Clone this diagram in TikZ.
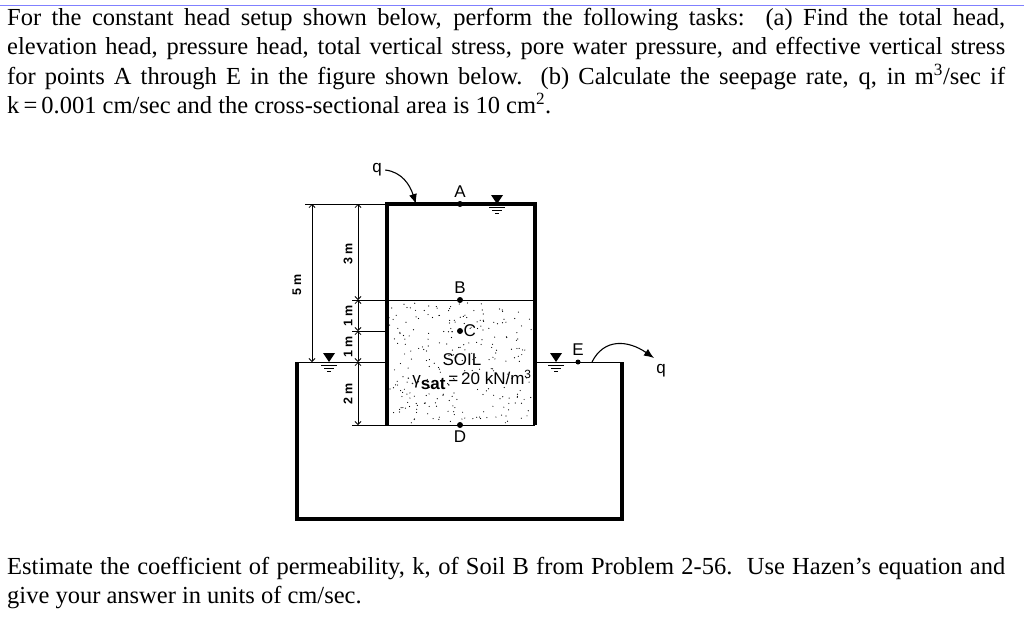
\documentclass[tikz,border=0pt]{standalone}
\usepackage{fontspec}
\setmainfont{Liberation Serif}
\newfontfamily\lsans{Liberation Sans}
\usetikzlibrary{arrows.meta}
\begin{document}
\begin{tikzpicture}[x=1pt,y=-1pt,
  wall/.style={line width=3.4pt},
  thin/.style={line width=0.9pt},
  dim/.style={line width=0.8pt,{Straight Barb[length=3pt]}-{Straight Barb[length=3pt]}},
  lab/.style={font=\lsans\fontsize{17}{17}\selectfont},
  dimlab/.style={font=\lsans\bfseries\fontsize{12.5}{12.5}\selectfont,rotate=90,fill=white,inner sep=1pt},
  pt/.style={circle,fill,inner sep=0pt,minimum size=6pt}]
\useasboundingbox (0,0) rectangle (1024,624);
\draw[line width=0.8pt,blue!50] (0,5) -- (1024,5);
\node[anchor=north west,inner sep=0pt,text width=998pt,align=justify,font=\fontsize{24.5}{29.5}\selectfont] (top) at (7,8)
{For the constant head setup shown below, perform the following tasks:\ \ (a) Find the total head,\linebreak elevation head, pressure head, total vertical stress, pore water pressure, and effective vertical stress\linebreak for points A through E in the figure shown below.\ \ (b) Calculate the seepage rate, q, in m\textsuperscript{3}/sec if\linebreak k\,=\,0.001 cm/sec and the cross-sectional area is 10 cm\textsuperscript{2}.};
\node[anchor=north west,inner sep=0pt,text width=998pt,align=justify,font=\fontsize{24.5}{29.5}\selectfont] (bot) at (7,557)
{Estimate the coefficient of permeability, k, of Soil B from Problem 2-56.\ \ Use Hazen's equation and\linebreak give your answer in units of cm/sec.};
% soil dots
\pgfmathsetseed{7}
\foreach \i in {1,...,260}{
  \pgfmathsetmacro\px{389+144*rnd}\pgfmathsetmacro\py{302+121*rnd}
  \fill (\px,\py) circle (0.6pt);}
% walls
\draw[wall] (387,425) -- (387,204) -- (535,204) -- (535,425);
\draw[thin] (387,300) -- (535,300);
\draw[thin] (387,425) -- (535,425);
\draw[wall] (297,362) -- (297,519) -- (622,519) -- (622,362);
\draw[thin] (297,362) -- (387,362);
\draw[thin] (535,362) -- (622,362);
% extension lines
\draw[thin] (305,204) -- (387,204);
\draw[thin] (352,300) -- (387,300);
\draw[thin] (352,331) -- (387,331);
\draw[thin] (352,425) -- (387,425);
% dimension lines
\coordinate (d5a) at (312,204); \coordinate (d5b) at (312,362);
\draw[dim] (d5a) -- (d5b);
\node[dimlab] (l5) at (297,285) {5 m};
\coordinate (h0) at (358,204); \coordinate (h1) at (358,300);
\coordinate (h2) at (358,331); \coordinate (h3) at (358,362); \coordinate (h4) at (358,425);
\draw[dim] (h0) -- (h1); \draw[dim] (h1) -- (h2); \draw[dim] (h2) -- (h3); \draw[dim] (h3) -- (h4);
\node[dimlab] (l3) at (348,254) {3 m};
\node[dimlab] (l1a) at (348,316) {1 m};
\node[dimlab] (l1b) at (348,347) {1 m};
\node[dimlab] (l2) at (348,394) {2 m};
% water table symbols
\foreach \x/\y in {497/204,329/362,556/362}{
  \fill (\x-6,\y-9) -- (\x+6,\y-9) -- (\x,\y) -- cycle;
  \draw[line width=0.9pt] (\x-8,\y+3) -- (\x+8,\y+3) (\x-5,\y+6) -- (\x+5,\y+6) (\x-2,\y+9) -- (\x+2,\y+9);}
% points
\node[pt] (A) at (460,204) {}; \node[lab,above=3pt] at (A) {A};
\node[pt] (B) at (460,300) {}; \node[lab,above=3pt] at (B) {B};
\node[pt] (C) at (460,331) {}; \node[lab,right=0pt] at (C) {C};
\node[pt] (D) at (460,425) {}; \node[lab,below=2pt] at (D) {D};
\node[pt,minimum size=5pt] (E) at (578,362) {}; \node[lab,above=3pt] at (E) {E};
\node[lab] (soil) at (462,360) {SOIL};
\node[lab] (gam) at (472,380) {γ\raisebox{-5pt}{\bfseries sat}\,=\,20 kN/m\textsuperscript{3}};
% q arrows
\node[lab] (q1) at (377,170) {q};
\coordinate (q1e) at (416,204);
\draw[line width=1.1pt,-{Latex[length=10pt,width=8pt]}] (q1.east) .. controls (402,172) and (410,185) .. (q1e);
\coordinate (q2s) at (592,362);
\node[lab] (q2) at (661,371) {q};
\draw[line width=1.1pt,-{Latex[length=10pt,width=8pt]}] (q2s) .. controls (604,338) and (628,340) .. (654,358);
\end{tikzpicture}
\end{document}
